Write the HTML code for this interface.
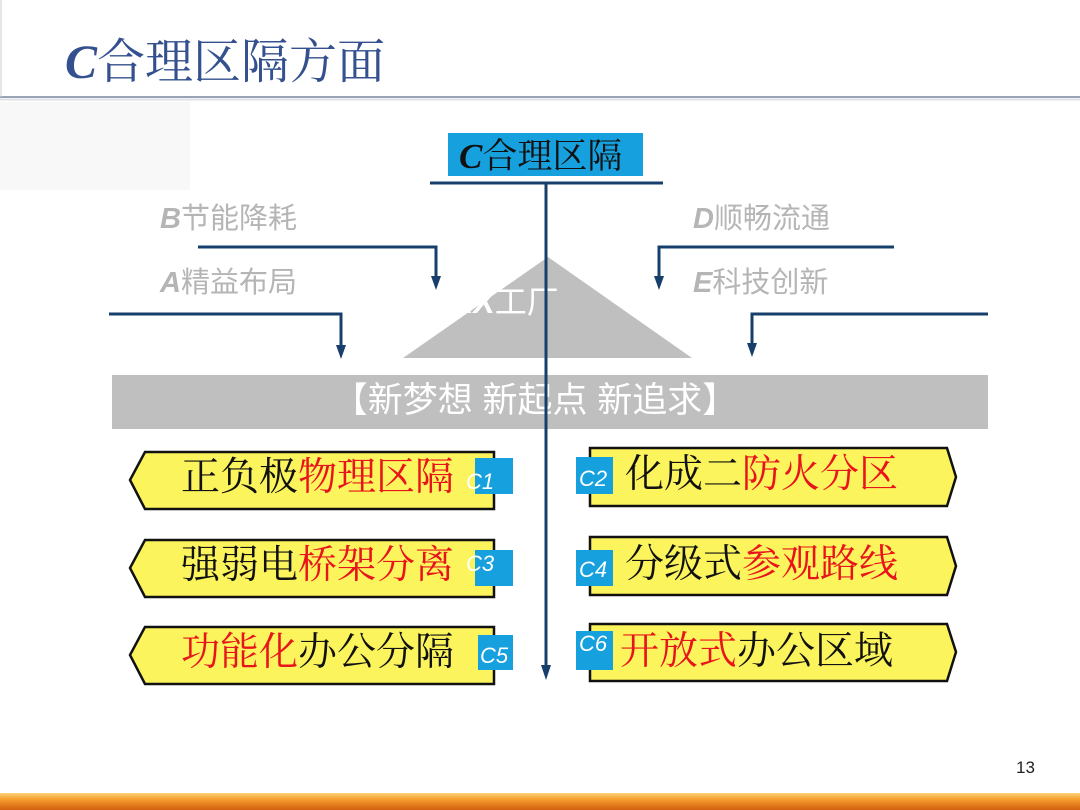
<!DOCTYPE html>
<html><head><meta charset="utf-8"><style>
html,body{margin:0;padding:0;background:#fff;}
svg{display:block;}
.cn{font-family:"Liberation Sans","Noto Sans CJK SC",sans-serif;}
.sf{font-family:"Liberation Serif","Noto Serif CJK SC",serif;}
</style></head><body>
<svg width="1080" height="810" viewBox="0 0 1080 810" xmlns="http://www.w3.org/2000/svg">
<defs>
<linearGradient id="og" x1="0" y1="0" x2="0" y2="1">
<stop offset="0" stop-color="#ffd37a"/><stop offset="0.35" stop-color="#f7a030"/><stop offset="1" stop-color="#d2600e"/>
</linearGradient>
</defs>
<rect x="0" y="0" width="1080" height="97" fill="#fff"/>
<line x1="0" y1="97" x2="1080" y2="97" stroke="#9aa3b5" stroke-width="2"/>
<line x1="0" y1="99.5" x2="1080" y2="99.5" stroke="#dde0e6" stroke-width="2"/>
<line x1="1" y1="0" x2="1" y2="97" stroke="#c8ccd6" stroke-width="1"/>
<text x="65" y="78" class="sf" font-size="48" fill="#34508f"><tspan font-style="italic" font-weight="bold">C</tspan>合理区隔方面</text>
<rect x="0" y="102" width="190" height="88" fill="#f8f8f8"/>

<rect x="448" y="133" width="195" height="43" fill="#16a0de"/>
<text x="459" y="168" class="sf" font-size="35" fill="#111"><tspan font-style="italic" font-weight="bold">C</tspan>合理区隔</text>
<line x1="430" y1="183" x2="663" y2="183" stroke="#173f6b" stroke-width="3"/>

<text x="160" y="228" class="cn" font-size="29" fill="#b5b5b5"><tspan font-style="italic" font-weight="bold">B</tspan>节能降耗</text>
<text x="160" y="292" class="cn" font-size="29" fill="#b5b5b5"><tspan font-style="italic" font-weight="bold">A</tspan>精益布局</text>
<text x="693" y="228" class="cn" font-size="29" fill="#b5b5b5"><tspan font-style="italic" font-weight="bold">D</tspan>顺畅流通</text>
<text x="693" y="292" class="cn" font-size="29" fill="#b5b5b5"><tspan font-style="italic" font-weight="bold">E</tspan>科技创新</text>

<polygon points="548,257 692,358 403,358" fill="#bfbfbf"/>
<text x="452" y="313" class="cn" font-size="32" fill="#fff"><tspan font-style="italic" font-weight="bold">XX</tspan>工厂</text>
<rect x="112" y="375" width="876" height="54" fill="#bfbfbf"/>
<text x="535" y="412" class="cn" font-size="35" fill="#fff" text-anchor="middle">【新梦想 新起点 新追求】</text>

<g stroke="#173f6b" stroke-width="3" fill="none">
<polyline points="198,247 436,247 436,278"/>
<polyline points="109,314 341,314 341,346"/>
<polyline points="894,247 659,247 659,278"/>
<polyline points="988,314 752,314 752,345"/>
<line x1="546" y1="183" x2="546" y2="667"/>
</g>
<g fill="#173f6b">
<polygon points="431,276 441,276 436,290"/>
<polygon points="336,345 346,345 341,359"/>
<polygon points="654,276 664,276 659,290"/>
<polygon points="747,343 757,343 752,357"/>
<polygon points="541,665 551,665 546,680"/>
</g>

<g stroke="#111" stroke-width="2.5" fill="#fbf45c">
<polygon points="145,452 494,452 494,509 145,509 130,480"/>
<polygon points="145,540 494,540 494,597 145,597 130,568"/>
<polygon points="145,627 494,627 494,684 145,684 130,655"/>
</g>
<g stroke="#111" stroke-width="2.5" fill="#fbf45c">
<polygon points="590,448 947,448 956,477 947,506 590,506"/>
<polygon points="590,537 947,537 956,566 947,595 590,595"/>
<polygon points="590,624 947,624 956,652 947,681 590,681"/>
</g>

<g class="sf" font-size="39">
<text x="181" y="490" fill="#111">正负极<tspan fill="#e8141c">物理区隔</tspan></text>
<text x="181" y="578" fill="#111">强弱电<tspan fill="#e8141c">桥架分离</tspan></text>
<text x="181" y="665" fill="#e8141c">功能化<tspan fill="#111">办公分隔</tspan></text>
<text x="625" y="487" fill="#111">化成二<tspan fill="#e8141c">防火分区</tspan></text>
<text x="625" y="577" fill="#111">分级式<tspan fill="#e8141c">参观路线</tspan></text>
<text x="620" y="664" fill="#e8141c">开放式<tspan fill="#111">办公区域</tspan></text>
</g>

<g fill="#16a0de">
<rect x="475" y="458" width="38" height="36"/>
<rect x="475" y="550" width="38" height="36"/>
<rect x="478" y="635" width="35" height="35"/>
<rect x="576" y="457" width="37" height="37"/>
<rect x="576" y="550" width="37" height="36"/>
<rect x="576" y="631" width="37" height="39"/>
</g>
<g class="cn" font-size="22" fill="#fff" font-style="italic">
<text x="466" y="489">C1</text>
<text x="466" y="571">C3</text>
<text x="480" y="663">C5</text>
<text x="579" y="486">C2</text>
<text x="579" y="577">C4</text>
<text x="579" y="651">C6</text>
</g>

<text x="1016" y="773" font-family="'Liberation Sans',sans-serif" font-size="17" fill="#222">13</text>
<rect x="0" y="793" width="1080" height="17" fill="url(#og)"/>
</svg>
</body></html>
